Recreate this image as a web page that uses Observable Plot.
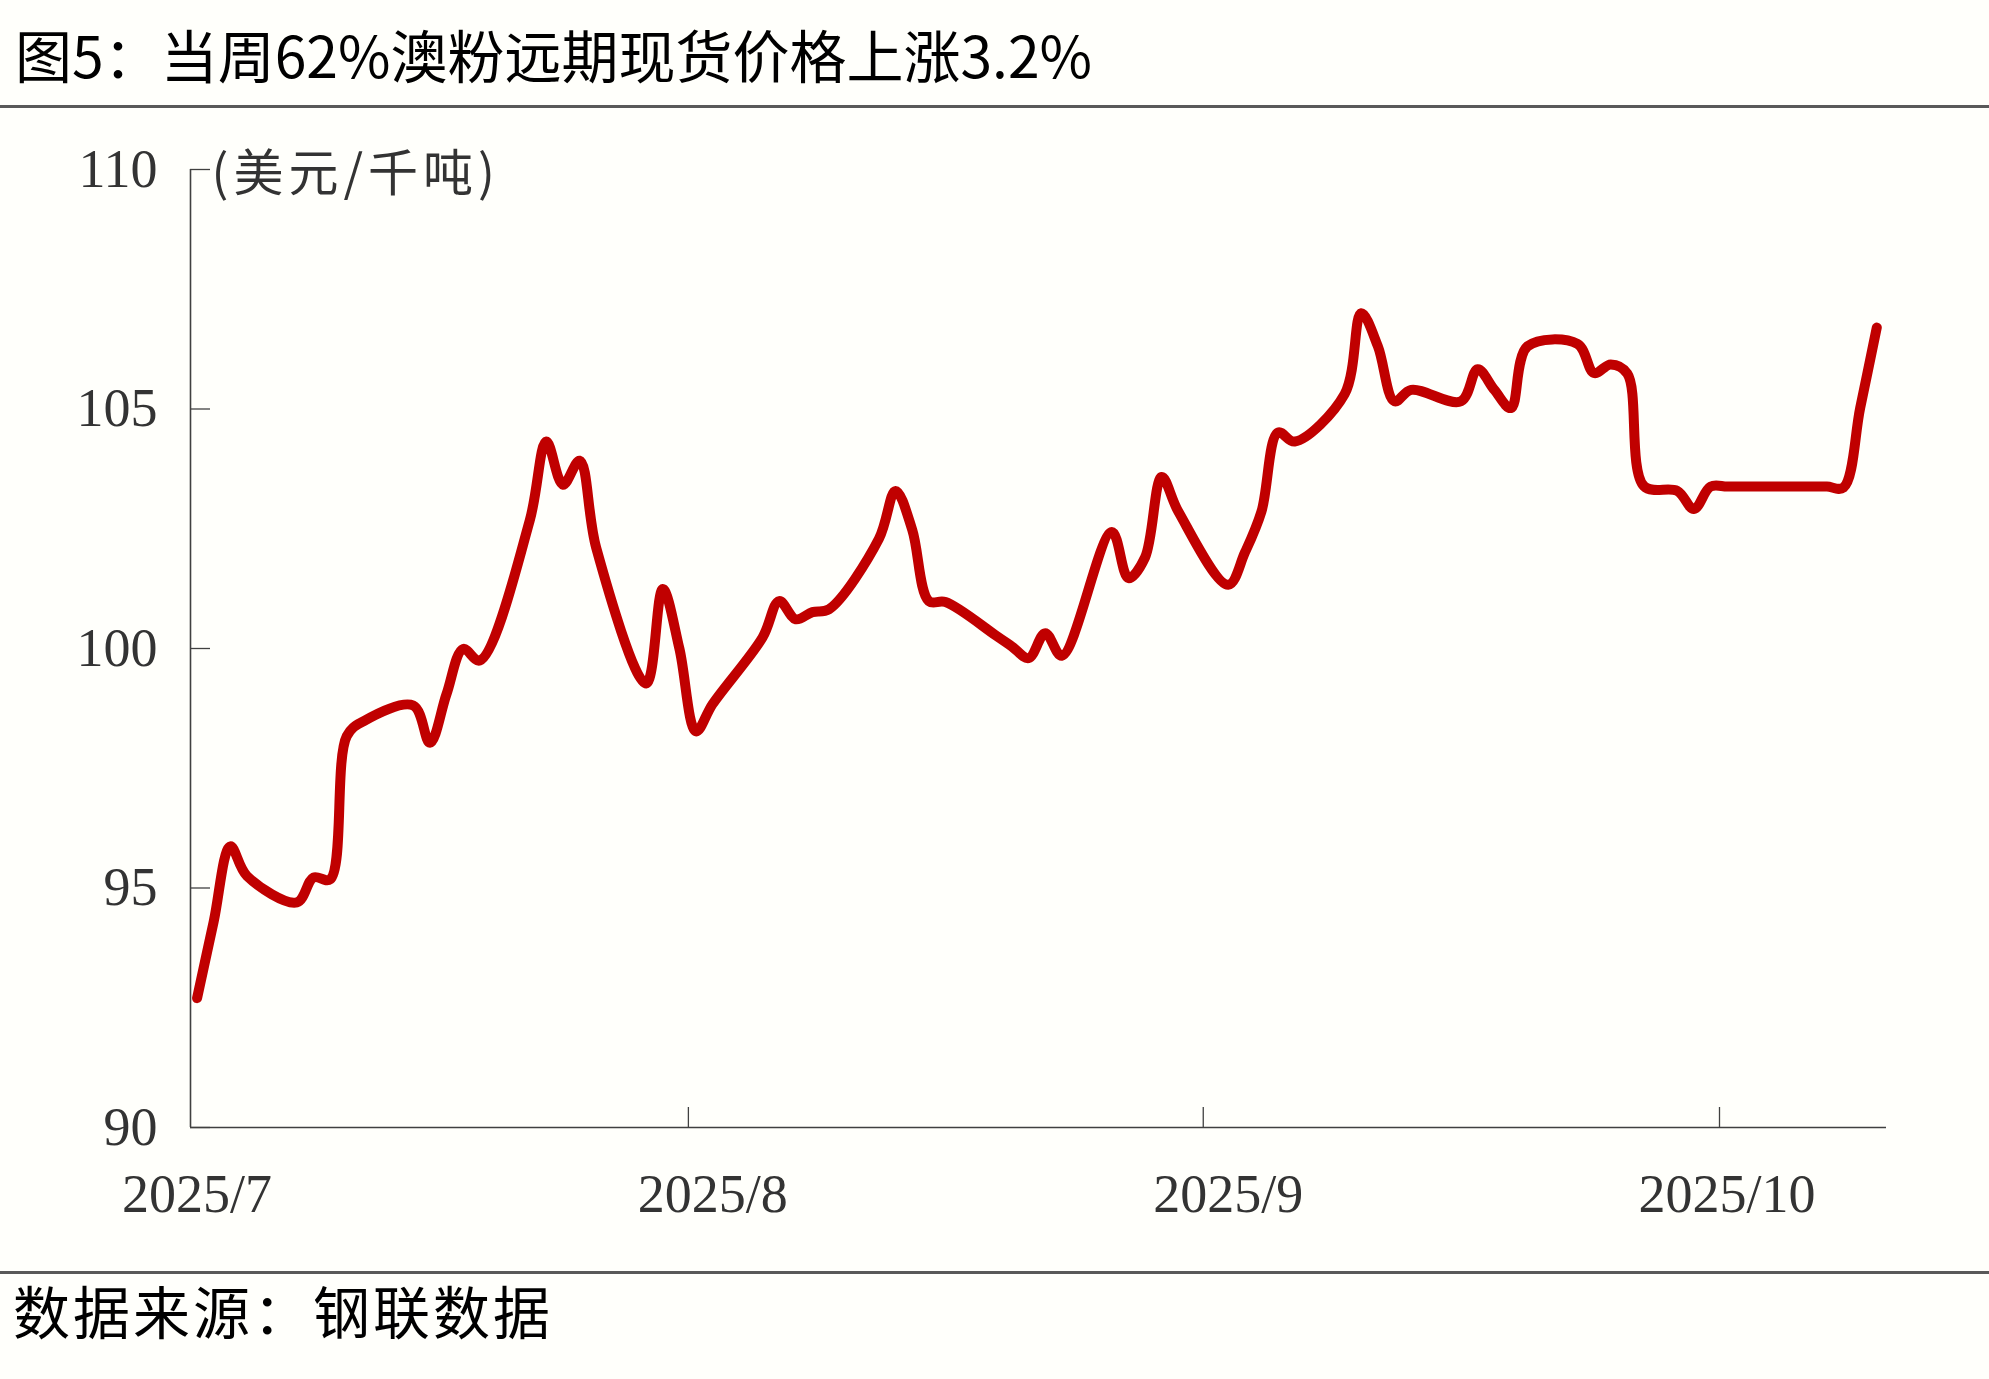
<!DOCTYPE html>
<html>
<head>
<meta charset="utf-8">
<script src="https://cdn.jsdelivr.net/npm/d3@7"></script>
<script src="https://cdn.jsdelivr.net/npm/@observablehq/plot@0.6"></script>
<style>
  html, body { margin: 0; padding: 0; background: #fffffb; }
  #page { position: relative; width: 1989px; height: 1379px; overflow: hidden; background: #fffffb; }
  #title { position: absolute; left: 15px; top: 25px; font-family: "Noto Sans CJK SC"; font-size: 57px; line-height: 57px; font-weight: 400; color: #000; white-space: nowrap; }
  #source { position: absolute; left: 13px; top: 1281px; font-family: "Noto Sans CJK SC"; font-size: 57px; line-height: 57px; font-weight: 400; color: #000; white-space: nowrap; letter-spacing: 3px; }
  .rule { position: absolute; left: 0; width: 1989px; height: 3px; background: #595959; }
  #chart { position: absolute; left: 0; top: 110px; }
</style>
</head>
<body>
<div id="page">
  <div id="title"></div>
  <div class="rule" style="top:105px"></div>
  <div id="chart"></div>
  <div class="rule" style="top:1271px"></div>
  <div id="source"></div>
</div>
<script>
// ---- data ----
const titleText = "图5：当周62%澳粉远期现货价格上涨3.2%";
const sourceText = "数据来源：钢联数据";
const unitLabel = "(美元/千吨)";

const dates = [
  "2025-07-01","2025-07-02","2025-07-03","2025-07-04","2025-07-07","2025-07-08","2025-07-09","2025-07-10","2025-07-11",
  "2025-07-14","2025-07-15","2025-07-16","2025-07-17","2025-07-18","2025-07-21","2025-07-22","2025-07-23","2025-07-24",
  "2025-07-25","2025-07-28","2025-07-29","2025-07-30","2025-07-31",
  "2025-08-01","2025-08-04","2025-08-05","2025-08-06","2025-08-07","2025-08-08","2025-08-11","2025-08-12","2025-08-13",
  "2025-08-14","2025-08-15","2025-08-18","2025-08-19","2025-08-20","2025-08-21","2025-08-22","2025-08-25","2025-08-26",
  "2025-08-27","2025-08-28","2025-08-29",
  "2025-09-01","2025-09-02","2025-09-03","2025-09-04","2025-09-05","2025-09-08","2025-09-09","2025-09-10","2025-09-11",
  "2025-09-12","2025-09-15","2025-09-16","2025-09-17","2025-09-18","2025-09-19","2025-09-22","2025-09-23","2025-09-24",
  "2025-09-25","2025-09-26","2025-09-28","2025-09-29","2025-09-30",
  "2025-10-01","2025-10-02","2025-10-03","2025-10-06","2025-10-07","2025-10-08","2025-10-09","2025-10-10"
];
const prices = [
  92.7, 94.3, 95.87, 95.25, 94.7, 95.22, 95.18, 98.17, 98.48,
  98.81, 98.03, 99.05, 99.99, 99.75, 102.67, 104.32, 103.42, 103.92,
  102.1, 99.27, 101.24, 100.0, 98.27,
  98.84, 100.23, 100.99, 100.61, 100.76, 100.82, 102.29, 103.29, 102.48,
  100.99, 100.97, 100.28, 100.04, 99.8, 100.32, 99.85, 102.43, 101.47,
  101.9, 103.58, 102.86,
  101.33, 102.0, 102.86, 104.51, 104.32, 105.31, 107.0, 106.31, 105.16,
  105.4, 105.16, 105.83, 105.4, 105.02, 106.31, 106.36, 105.75, 105.93,
  105.74, 103.39, 103.29, 102.91, 103.38,
  103.38, 103.38, 103.38, 103.38, 103.38, 103.36, 105.02, 106.7
];
const yTicks = [90, 95, 100, 105, 110];
const xLabelDates = ["2025-07-01", "2025-08-01", "2025-09-01", "2025-10-01"];
const xLabels = ["2025/7", "2025/8", "2025/9", "2025/10"];
const xTickDates = ["2025-07-30T13:00Z", "2025-08-30T12:00Z", "2025-09-30T13:00Z"];
const xDomain = ["2025-06-30T14:30Z", "2025-10-10T14:00Z"];

// ---- build ----
const data = dates.map((d, i) => ({date: new Date(d), value: prices[i]}));
const W = 1989, H = 1157;
const mL = 190, mR = 103, mT = 59, mB = 140;
const frameW = W - mL - mR, frameH = H - mT - mB;
const axisColor = "#404040";
const textColor = "#333333";
const serif = "Liberation Serif, Times New Roman, serif";

document.getElementById("title").textContent = titleText;
document.getElementById("source").textContent = sourceText;

const chart = Plot.plot({
  width: W,
  height: H,
  marginLeft: mL,
  marginRight: mR,
  marginTop: mT,
  marginBottom: mB,
  style: {background: "transparent", color: textColor, overflow: "visible"},
  x: {type: "utc", domain: xDomain.map(d => new Date(d)), axis: null},
  y: {domain: [90, 110]},
  marks: [
    Plot.axisY({ticks: yTicks, tickSize: 0, tickPadding: 33, fontSize: 54, fontFamily: serif, label: null, tickFormat: d => String(d)}),
    Plot.tickY(yTicks, {y: d => d, stroke: axisColor, strokeWidth: 1.3, insetRight: frameW - 20}),
    Plot.tickX(xTickDates.map(d => new Date(d)), {x: d => d, stroke: axisColor, strokeWidth: 1.3, insetTop: frameH - 20}),
    Plot.ruleY([90], {stroke: axisColor, strokeWidth: 1.6}),
    Plot.ruleX([new Date(xDomain[0])], {stroke: axisColor, strokeWidth: 1.6}),
    Plot.text(xLabelDates.map(d => new Date(d)), {x: d => d, text: (d, i) => xLabels[i], frameAnchor: "bottom", dy: 84, fontSize: 54, fontFamily: serif, fill: textColor}),
    Plot.text([unitLabel], {text: d => d, frameAnchor: "top-left", dx: 21, dy: -14, textAnchor: "start", fontSize: 50, fontFamily: "Noto Sans CJK SC", fill: textColor}),
    Plot.line(data, {x: "date", y: "value", stroke: "#C00000", strokeWidth: 10, curve: "catmull-rom", strokeLinejoin: "round", strokeLinecap: "round"})
  ]
});
chart.querySelectorAll("text").forEach(t => { if (t.textContent === unitLabel) t.style.letterSpacing = "5px"; });
document.getElementById("chart").appendChild(chart);
</script>
</body>
</html>
